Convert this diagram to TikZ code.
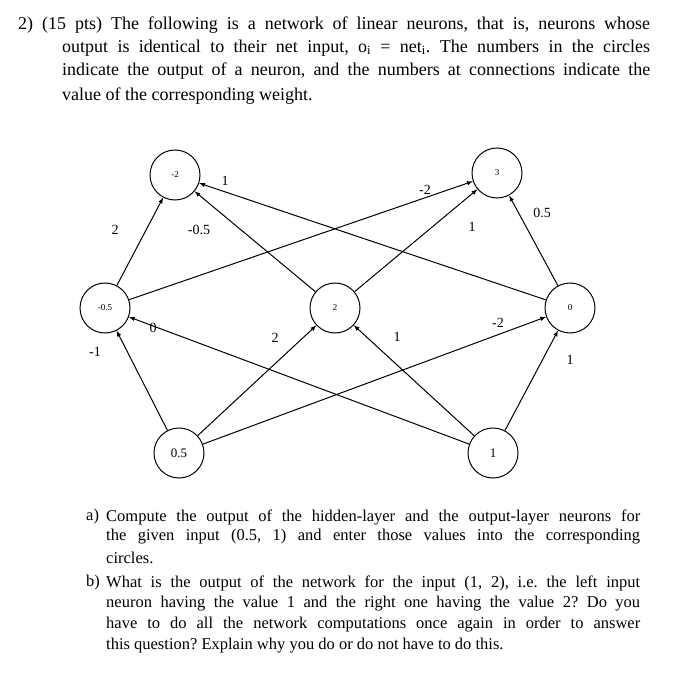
\documentclass[tikz,border=0pt]{standalone}
\usepackage{fontspec}
\setmainfont{Liberation Serif}
\begin{document}
\frenchspacing
\begin{tikzpicture}[x=1pt,y=-1pt,
 neuron/.style={draw,circle,minimum size=50pt,inner sep=0pt,line width=1pt,font=\fontsize{9}{10}\selectfont},
 conn/.style={-latex,line width=1pt},
 wl/.style={font=\fontsize{14}{15}\selectfont,inner sep=0pt},
 txt/.style={anchor=west,inner sep=0pt,font=\fontsize{18}{20}\selectfont},
 txtb/.style={anchor=west,inner sep=0pt,font=\fontsize{16.5}{18}\selectfont}]
\useasboundingbox (0,0) rectangle (700,700);
\fill[white] (0,0) rectangle (700,700);
% text
\node[txt] (t0) at (18,25) {2)};
\node[txt] (t1) at (42,25) {\makebox[608pt][s]{(15 pts) The following is a network of linear neurons, that is, neurons whose}};
\node[txt] (t2) at (62,48) {\makebox[588pt][s]{output is identical to their net input, o\textsubscript{i} = net\textsubscript{i}. The numbers in the circles}};
\node[txt] (t3) at (62,71) {\makebox[588pt][s]{indicate the output of a neuron, and the numbers at connections indicate the}};
\node[txt] (t4) at (62,96) {value of the corresponding weight.};
% neurons
\node[neuron] (tl) at (175,175) {-2};
\node[neuron] (tr) at (497,173) {3};
\node[neuron] (l) at (105,308) {-0.5};
\node[neuron] (m) at (335,308) {2};
\node[neuron] (r) at (570,308) {0};
\node[neuron,font=\fontsize{13}{14}\selectfont] (bl) at (179,453) {0.5};
\node[neuron,font=\fontsize{13}{14}\selectfont] (br) at (493,453) {1};
% connections
\draw[conn] (l) -- (tl);
\draw[conn] (m) -- (tl);
\draw[conn] (r) -- (tl);
\draw[conn] (l) -- (tr);
\draw[conn] (m) -- (tr);
\draw[conn] (r) -- (tr);
\draw[conn] (bl) -- (l);
\draw[conn] (br) -- (l);
\draw[conn] (bl) -- (m);
\draw[conn] (br) -- (m);
\draw[conn] (bl) -- (r);
\draw[conn] (br) -- (r);
% weights
\node[wl] (w1) at (225,181) {1};
\node[wl] (w2) at (115,230) {2};
\node[wl] (w3) at (199,230) {-0.5};
\node[wl] (w4) at (425,190) {-2};
\node[wl] (w5) at (472,227) {1};
\node[wl] (w6) at (542,213) {0.5};
\node[wl] (w7) at (153,328) {0};
\node[wl] (w8) at (95,352) {-1};
\node[wl] (w9) at (275,338) {2};
\node[wl] (w10) at (397,337) {1};
\node[wl] (w11) at (498,323) {-2};
\node[wl] (w12) at (570,360) {1};
% questions
\node[txtb] (a0) at (86,517) {a)};
\node[txtb] (a1) at (106,517) {\makebox[534pt][s]{Compute the output of the hidden-layer and the output-layer neurons for}};
\node[txtb] (a2) at (106,537) {\makebox[534pt][s]{the given input (0.5, 1) and enter those values into the corresponding}};
\node[txtb] (a3) at (106,558) {circles.};
\node[txtb] (b0) at (86,583) {b)};
\node[txtb] (b1) at (106,583) {\makebox[534pt][s]{What is the output of the network for the input (1, 2), i.e. the left input}};
\node[txtb] (b2) at (106,604) {\makebox[534pt][s]{neuron having the value 1 and the right one having the value 2? Do you}};
\node[txtb] (b3) at (106,625) {\makebox[534pt][s]{have to do all the network computations once again in order to answer}};
\node[txtb] (b4) at (106,646) {this question? Explain why you do or do not have to do this.};
\end{tikzpicture}
\end{document}
